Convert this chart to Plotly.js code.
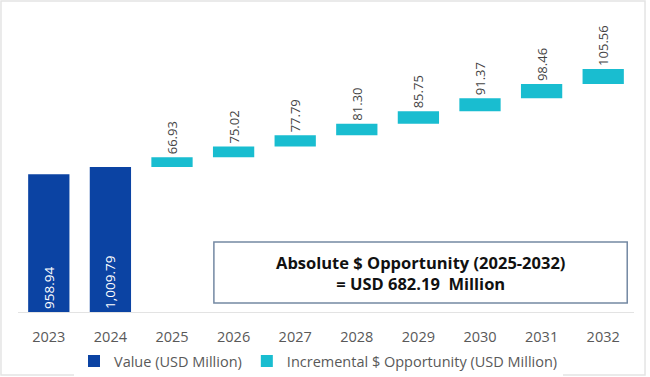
<!DOCTYPE html>
<html>
<head>
<meta charset="utf-8">
<script src="https://cdn.plot.ly/plotly-3.0.1.min.js"></script>
<style>html,body{margin:0;padding:0;background:#fff;}#chart{width:650px;height:377px;}</style>
</head>
<body>
<div id="chart"></div>
<script>
const valueYears = ["2023", "2024"];
const valueData = [958.94, 1009.79];
const incYears = ["2025", "2026", "2027", "2028", "2029", "2030", "2031", "2032"];
const incData = [66.93, 75.02, 77.79, 81.30, 85.75, 91.37, 98.46, 105.56];
const boxLine1 = "Absolute $ Opportunity (2025-2032)";
const boxLine2 = "= USD 682.19  Million";

// cumulative bases for the floating incremental bars
const bases = [];
let run = valueData[valueData.length - 1];
for (const v of incData) { bases.push(run); run += v; }

const traces = [
  {
    type: "bar", name: "Value (USD Million)",
    x: valueYears, y: valueData,
    marker: {color: "#0B43A3"},
    texttemplate: "%{y:,.2f}", textposition: "inside", insidetextanchor: "start",
    textangle: -90, textfont: {color: "#ffffff", size: 13.5, family: "Open Sans"},
    hoverinfo: "skip"
  },
  {
    type: "bar", name: "Incremental $ Opportunity (USD Million)",
    x: incYears, y: incData, base: bases,
    marker: {color: "#19BDD0"},
    text: incData.map(v => v.toFixed(2)), textposition: "outside",
    textangle: -90, textfont: {color: "#444444", size: 13, family: "Open Sans"},
    cliponaxis: false, hoverinfo: "skip"
  }
];

const layout = {
  width: 650, height: 377,
  margin: {l: 18, r: 16, t: 39, b: 65, autoexpand: false},
  paper_bgcolor: "#ffffff", plot_bgcolor: "rgba(0,0,0,0)",
  barmode: "overlay", bargap: 0.33,
  showlegend: true,
  legend: {orientation: "h", x: 0.49, xanchor: "center", xref: "container",
           y: 0.042, yanchor: "middle", yref: "container",
           font: {family: "Open Sans", size: 14.5, color: "#595959"}, itemwidth: 30, tracegroupgap: 0},
  xaxis: {type: "category", categoryorder: "array", categoryarray: valueYears.concat(incYears),
          showline: true, linecolor: "#e3e3e3", linewidth: 1, ticks: "outside", ticklen: 12,
          tickcolor: "rgba(0,0,0,0)",
          tickfont: {family: "Open Sans", size: 14.5, color: "#595959"}, showgrid: false},
  yaxis: {range: [0, 1900], visible: false, showgrid: false, zeroline: false},
  shapes: [
    {type: "rect", xref: "paper", yref: "paper", x0: -0.0276, x1: 1.0179, y0: -0.2308, y1: 1.139,
     line: {color: "#e4e4e4", width: 1.5}, fillcolor: "rgba(0,0,0,0)", layer: "below"},
    {type: "rect", xref: "paper", yref: "paper", x0: 0.318, x1: 0.989, y0: 0.033, y1: 0.256,
     line: {color: "#7489a3", width: 1.5}, fillcolor: "#ffffff", layer: "above"}
  ],
  annotations: [
    {xref: "paper", yref: "paper", x: 0.6535, y: 0.1445, xanchor: "center", yanchor: "middle",
     text: "<b>" + boxLine1 + "</b><br><b>" + boxLine2 + "</b>", showarrow: false,
     font: {family: "Open Sans", size: 16.5, color: "#111111"}, align: "center"}
  ]
};

Plotly.newPlot("chart", traces, layout, {displayModeBar: false, staticPlot: true});
</script>
</body>
</html>
